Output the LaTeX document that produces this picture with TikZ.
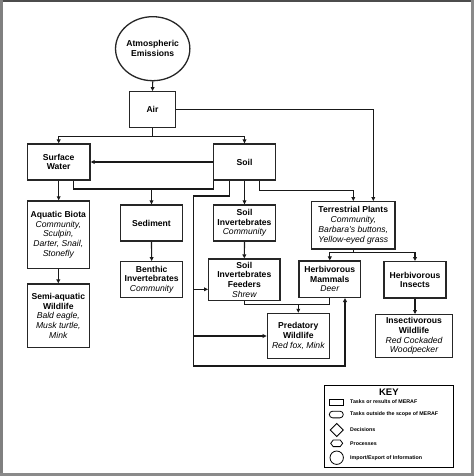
\documentclass[tikz,border=0pt]{standalone}
\usepackage{fontspec}
\setmainfont{Liberation Sans}
\usetikzlibrary{arrows.meta,shapes.geometric,shapes.misc}
\newcommand\spcs[1]{{\normalfont\itshape #1}}
\begin{document}
\begin{tikzpicture}[x=1pt,y=-1pt,
  box/.style={draw=black!85, line width=1.3pt, inner sep=0pt, align=center,
    font=\fontsize{8.6}{9.7}\selectfont\bfseries},
  conn/.style={line width=1.15pt, draw=black!90},
  arr/.style={conn,-{Triangle[length=4pt,width=3.8pt]}},
  keyshape/.style={draw, line width=0.8pt, inner sep=0pt},
  keytext/.style={anchor=west, inner sep=0pt, font=\fontsize{5.3}{6}\selectfont\bfseries}]
\useasboundingbox (0,0) rectangle (474,476);
\fill[white] (0,0) rectangle (474,476);
% frame
\fill[black!70] (0,0) rectangle (474,2);
\fill[black!50] (0,0) rectangle (2.7,476);
\fill[black!46] (471.3,0) rectangle (474,476);
\fill[black!46] (0,473.3) rectangle (474,476);

% nodes
\node[box, ellipse, minimum width=73pt, minimum height=64pt] (atm) at (152.7,48.7) {Atmospheric\\Emissions};
\node[box, minimum width=46.4pt, minimum height=36pt] (air) at (152.5,109.7) {Air};
\node[box, minimum width=62.7pt, minimum height=36pt] (sw) at (58.7,162) {Surface\\Water};
\node[box, minimum width=62.4pt, minimum height=36pt] (soil) at (244.5,162) {Soil};
\node[box, line width=1.6pt, minimum width=62pt, minimum height=67.3pt] (ab) at (58.3,234.7) {Aquatic Biota\\\spcs{Community,}\\\spcs{Sculpin,}\\\spcs{Darter, Snail,}\\\spcs{Stonefly}};
\node[box, minimum width=61.6pt, minimum height=36pt] (sed) at (151.5,223) {Sediment};
\node[box, minimum width=62.4pt, minimum height=36pt] (si) at (244.5,223) {Soil\\Invertebrates\\\spcs{Community}};
\node[box, minimum width=83.3pt, minimum height=47.3pt] (tp) at (353.3,225.3) {Terrestrial Plants\\\spcs{Community,}\\\spcs{Barbara’s buttons,}\\\spcs{Yellow-eyed grass}};
\node[box, minimum width=62pt, minimum height=35.6pt] (bi) at (151.7,279.5) {Benthic\\Invertebrates\\\spcs{Community}};
\node[box, minimum width=71.3pt, minimum height=41.3pt] (sif) at (244.3,279.7) {Soil\\Invertebrates\\Feeders\\\spcs{Shrew}};
\node[box, minimum width=61.7pt, minimum height=36.3pt] (hm) at (329.8,279.2) {Herbivorous\\Mammals\\\spcs{Deer}};
\node[box, minimum width=62pt, minimum height=36.3pt] (hi) at (415,279.8) {Herbivorous\\Insects};
\node[box, line width=1.45pt, minimum width=62pt, minimum height=63.3pt] (saw) at (58.3,315.7) {Semi-aquatic\\Wildlife\\\spcs{Bald eagle,}\\\spcs{Musk turtle,}\\\spcs{Mink}};
\node[box, minimum width=62pt, minimum height=45.2pt] (pw) at (298.3,336) {Predatory\\Wildlife\\\spcs{Red fox, Mink}};
\node[box, minimum width=77.4pt, minimum height=42.6pt] (iw) at (414,336) {Insectivorous\\Wildlife\\\spcs{Red Cockaded}\\\spcs{Woodpecker}};

% junction coordinates
\coordinate (jair) at (152.5,136.3);
\coordinate (jsed) at (151.5,189);
\coordinate (jleft) at (193.3,196);
\coordinate (jbot) at (193.3,366);
\coordinate (jpw) at (298.3,304.5);
\coordinate (jtp) at (353.3,252.7);

% connectors
\draw[arr] (atm.south) -- (air.north);
\draw[conn] (air.south) -- (jair);
\draw[arr] (jair) -| (sw.north);
\draw[arr] (jair) -| (soil.north);
\draw[arr] (air.east) -| ([xshift=20pt]tp.north);
\draw[arr] (soil.west) -- (sw.east);
\draw[conn] ([xshift=1pt]soil.south west) |- (jsed) -| ([xshift=14.6pt]sw.south);
\draw[arr] (jsed) -- (sed.north);
\draw[conn] ([xshift=-15.2pt]soil.south) |- (jleft) -- (jbot);
\draw[arr] (jbot) -| ([xshift=15.2pt]hm.south);
\draw[arr] (jleft |- 0,289.3) -- (sif.west |- 0,289.3);
\draw[arr] (jleft |- pw.west) -- (pw.west);
\draw[arr] (soil.south) -- (si.north);
\draw[arr] ([xshift=14.8pt]soil.south) -- ++(0,10) -| (tp.north);
\draw[arr] (si.south) -- (sif.north);
\draw[conn] (sif.south) |- (jpw) -| (hm.south);
\draw[arr] (jpw) -- (pw.north);
\draw[conn] (tp.south) -- (jtp);
\draw[arr] (jtp) -| (hm.north);
\draw[arr] (jtp) -| (hi.north);
\draw[arr] (hi.south) -- (hi.south |- iw.north);
\draw[arr] (sw.south) -- (sw.south |- ab.north);
\draw[arr] (ab.south) -- (ab.south |- saw.north);
\draw[arr] (sed.south) -- (bi.north);

% key
\node[draw, line width=1pt, minimum width=128.8pt, minimum height=82pt, inner sep=0pt] (key) at (388.9,426) {};
\node[inner sep=0pt, font=\fontsize{9.5}{10}\selectfont\bfseries] (keyt) at (388.9,392.3) {KEY};
\node[keyshape, minimum width=14pt, minimum height=6.7pt] (k1) at (336.3,402.3) {};
\node[keyshape, rounded rectangle, minimum width=14pt, minimum height=6.7pt] (k2) at (336.3,414.5) {};
\node[keyshape, diamond, minimum width=13.3pt, minimum height=13.3pt] (k3) at (336.7,430) {};
\draw[line width=0.8pt] (330.7,443.3) -- (333.2,440) -- (340.2,440) -- (342.7,443.3) -- (340.2,446.6) -- (333.2,446.6) -- cycle;
\node[keyshape, circle, minimum size=13.4pt] (k5) at (336.7,457.7) {};
\node[keytext] (t1) at (350,402) {Tasks or results of MERAF};
\node[keytext] (t2) at (350,414.3) {Tasks outside the scope of MERAF};
\node[keytext] (t3) at (350,430) {Decisions};
\node[keytext] (t4) at (350,443.3) {Processes};
\node[keytext] (t5) at (350,457.7) {Import/Export of Information};
\end{tikzpicture}
\end{document}
